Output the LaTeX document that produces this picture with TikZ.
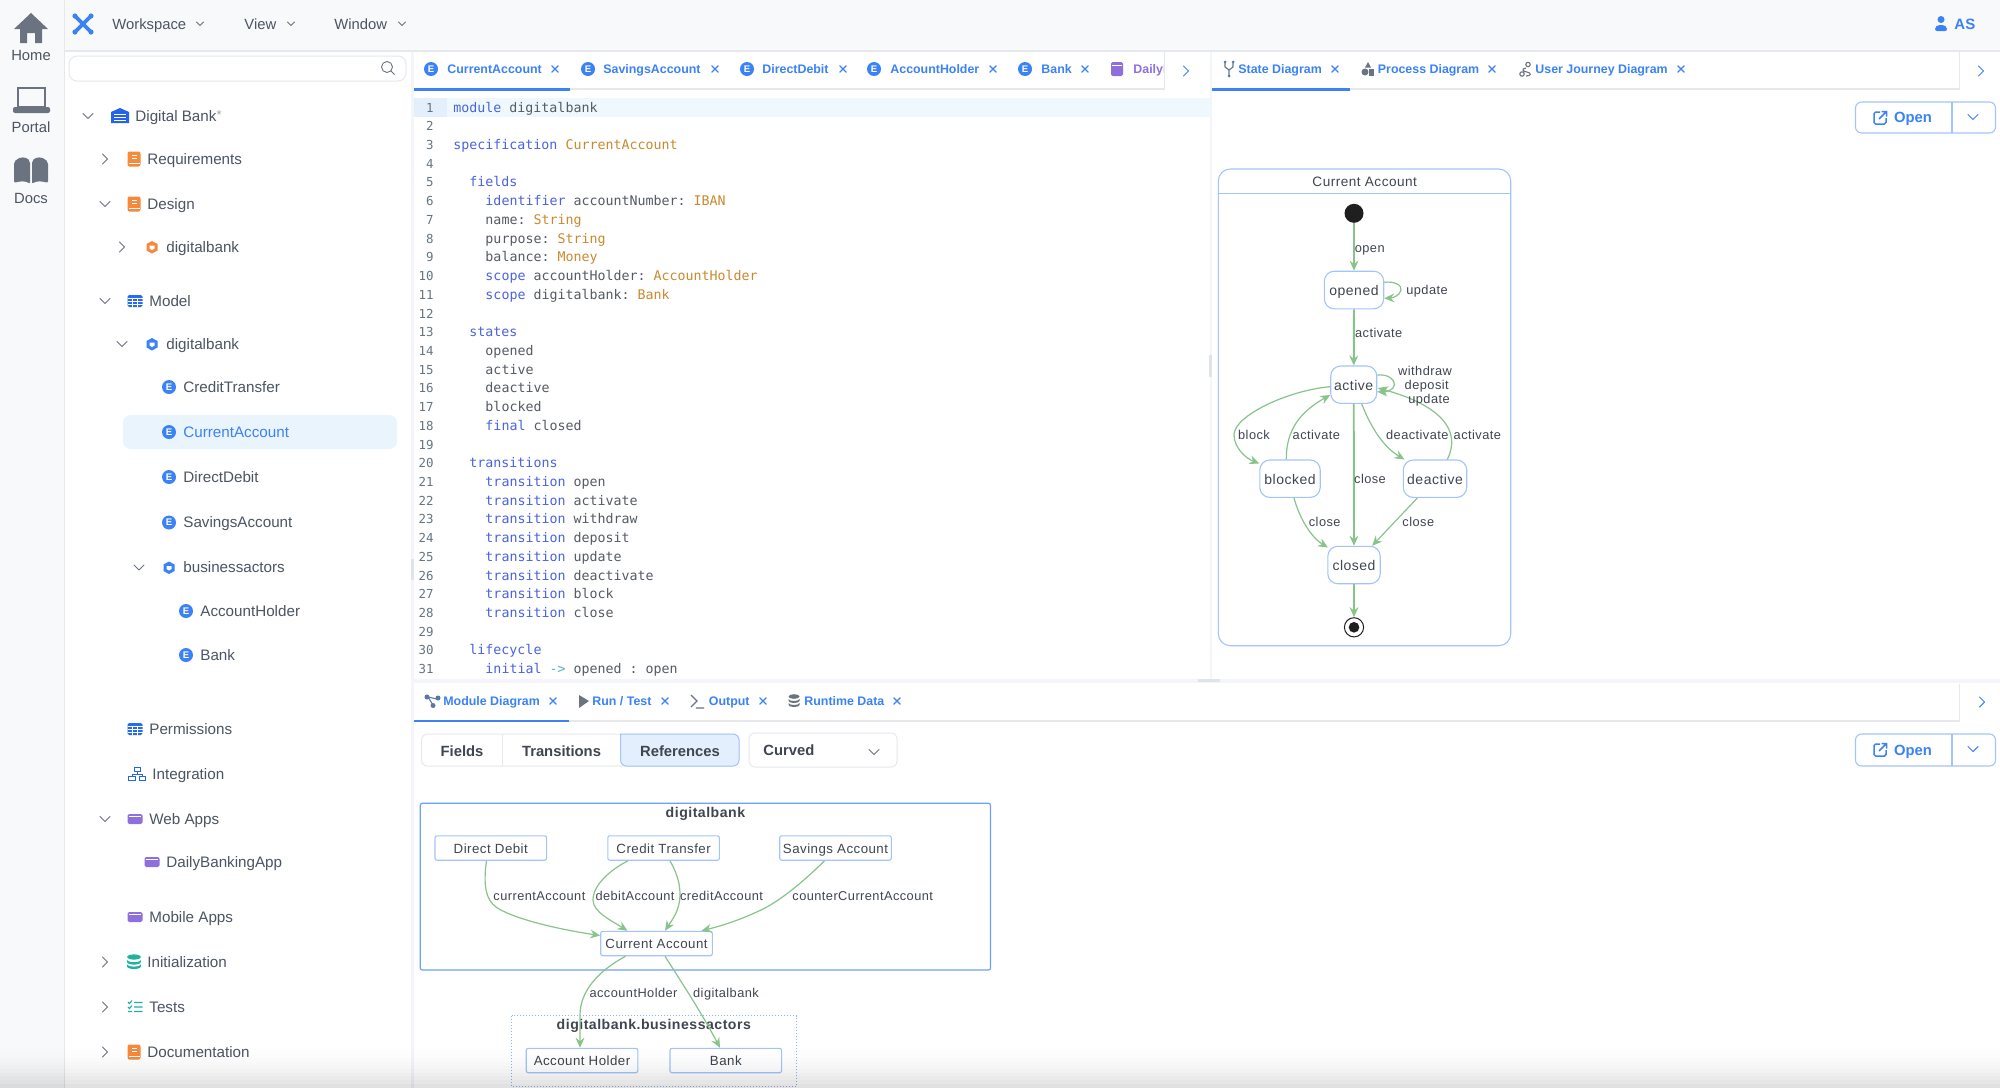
\documentclass[tikz,border=0pt]{standalone}
\usepackage{fontspec}
\setmainfont{Liberation Sans}
\newfontfamily\codefont{DejaVu Sans Mono}
\newfontfamily\spaced[LetterSpace=3.5]{Liberation Sans}
\usetikzlibrary{arrows.meta,calc}
\definecolor{railbg}{HTML}{F8F9FB}
\definecolor{edge}{HTML}{E6E8EC}
\definecolor{band}{HTML}{F3F5F9}
\definecolor{handle}{HTML}{DFE3EA}
\definecolor{txt}{HTML}{4B5563}
\definecolor{dark}{HTML}{3F4650}
\definecolor{railic}{HTML}{6B7280}
\definecolor{blue}{HTML}{3B82F6}
\definecolor{dblue}{HTML}{2563EB}
\definecolor{orange}{HTML}{F58A3C}
\definecolor{purple}{HTML}{8F6FDB}
\definecolor{teal}{HTML}{20B2A0}
\definecolor{hl}{HTML}{EAF4FD}
\definecolor{lineact}{HTML}{EFF8FC}
\definecolor{gutact}{HTML}{E3EFFA}
\definecolor{kwc}{HTML}{4A63E0}
\definecolor{tyc}{HTML}{C98A2E}
\definecolor{codec}{HTML}{555B63}
\definecolor{numc}{HTML}{66757F}
\definecolor{arrowc}{HTML}{4FB8B0}
\definecolor{green}{HTML}{88C48A}
\definecolor{sblue}{HTML}{A3C4FA}
\definecolor{refbg}{HTML}{E3EFFC}
\newcounter{ic}
\newcommand{\fsz}[1]{\fontsize{#1}{#1}\selectfont}
\newcommand{\kw}[1]{\textcolor{kwc}{#1}}
\newcommand{\ty}[1]{\textcolor{tyc}{#1}}
\tikzset{
 x=0.5pt,y=-0.5pt,
 tree/.style={inner sep=0pt,anchor=west,yshift=-0.6pt,text=txt,font=\fsz{7.6pt},text height=5.6pt,text depth=1.6pt},
 menu/.style={tree,font=\fsz{7.4pt}},
 rail/.style={inner sep=0pt,yshift=-0.6pt,text=txt,font=\fsz{7.4pt},text height=5.4pt,text depth=1.5pt},
 tabt/.style={inner sep=0pt,anchor=west,yshift=-0.6pt,text=blue,font=\bfseries\fsz{6.2pt},text height=4.6pt,text depth=1.3pt},
 code/.style={inner sep=0pt,anchor=west,yshift=-0.6pt,text=codec,font=\codefont\frenchspacing\fsz{6.65pt},text height=5pt,text depth=1.4pt},
 lnum/.style={inner sep=0pt,anchor=east,yshift=-0.6pt,text=numc,font=\codefont\fsz{6.2pt},text height=5pt,text depth=1.4pt},
 btnt/.style={inner sep=0pt,yshift=-0.6pt,text=dark,font=\bfseries\fsz{7.4pt},text height=5.4pt,text depth=1.5pt},
 opent/.style={inner sep=0pt,yshift=-0.6pt,text=blue,font=\bfseries\fsz{7.4pt},text height=5.4pt,text depth=1.5pt},
 state/.style={draw=sblue,fill=white,line width=0.55pt,rounded corners=5pt,inner sep=0pt,text=dark,font=\spaced\fsz{7pt},text height=6.4pt,text depth=1pt},
 mbox/.style={draw=sblue,fill=white,line width=0.55pt,rounded corners=1pt,inner sep=0pt,minimum width=55.8pt,minimum height=12.2pt,text=dark,font=\spaced\fsz{6.65pt},text height=6pt,text depth=1pt},
 elab/.style={inner sep=0pt,yshift=-0.6pt,text=dark,font=\spaced\fsz{6.4pt},text height=4.8pt,text depth=1.4pt},
 gtitle/.style={inner sep=0pt,yshift=-0.6pt,text=dark,font=\spaced\bfseries\fsz{7.05pt},text height=5.2pt,text depth=1.5pt},
 thin edge/.style={draw=green,line width=0.6pt,-{Stealth[length=5pt,width=4.4pt,inset=1.7pt]}},
 thick edge/.style={draw=green,line width=0.95pt,-{Stealth[length=5pt,width=4.4pt,inset=1.7pt]}},
 chev/.style={draw=railic,line width=0.5pt,line cap=round,line join=round},
 closex/.style={draw=blue,line width=0.6pt,line cap=round},
}
\newcommand{\icChevD}[3][railic]{\draw[chev,draw=#1,shift={(#2,#3)}] (-5,-2.5) -- (0,2.5) -- (5,-2.5);}
\newcommand{\icChevS}[3][railic]{\draw[chev,draw=#1,shift={(#2,#3)}] (-3.5,-2) -- (0,1.5) -- (3.5,-2);}
\newcommand{\icChevR}[3][railic]{\draw[chev,draw=#1,shift={(#2,#3)}] (-2.5,-5) -- (2.5,0) -- (-2.5,5);}
\newcommand{\icX}[2]{\draw[closex,shift={(#1,#2)}] (-3.2,-3.2) -- (3.2,3.2) (-3.2,3.2) -- (3.2,-3.2);}
\newcommand{\icE}[2]{\stepcounter{ic}\node[circle,fill=blue,inner sep=0pt,minimum size=7pt,text=white,font=\bfseries\fsz{4.8pt}] (ic\arabic{ic}) at (#1,#2) {E};}
\newcommand{\icBook}[2]{\begin{scope}[shift={(#1,#2)}]
 \fill[orange,rounded corners=1pt] (-6.5,-7.5) rectangle (6.5,7.5);
 \draw[white,line width=0.45pt] (-2,-3.5) -- (3,-3.5) (-2,-0.5) -- (3,-0.5) (-5,4) -- (6,4);\end{scope}}
\newcommand{\icCube}[3]{\begin{scope}[shift={(#2,#3)}]
 \fill[#1] (0,-6) -- (5.5,-3) -- (5.5,3.5) -- (0,6.5) -- (-5.5,3.5) -- (-5.5,-3) -- cycle;
 \fill[white] (-2.5,-1.5) -- (2.5,-1.5) -- (2.5,1.5) -- (0,3) -- (-2.5,1.5) -- cycle;\end{scope}}
\newcommand{\icGrid}[2]{\begin{scope}[shift={(#1,#2)}]
 \fill[dblue!80!blue,rounded corners=0.8pt] (-7.5,-6) rectangle (7.5,6);
 \draw[white,line width=0.4pt] (-7.5,-2.5) -- (7.5,-2.5) (-7.5,0.8) -- (7.5,0.8) (-7.5,3.6) -- (7.5,3.6) (-2.5,-2.5) -- (-2.5,6) (2.5,-2.5) -- (2.5,6);\end{scope}}
\newcommand{\icWin}[2]{\begin{scope}[shift={(#1,#2)}]
 \fill[purple,rounded corners=0.8pt] (-7.5,-5) rectangle (7.5,5);
 \draw[white,line width=0.4pt] (-6,-2.8) -- (6,-2.8);\end{scope}}
\newcommand{\icNet}[2]{\begin{scope}[shift={(#1,#2)}]
 \draw[dblue,line width=0.5pt] (-3,-7) rectangle (3,-3) (-8.5,2.5) rectangle (-2,6.5) (2,2.5) rectangle (8.5,6.5)
 (0,-3) -- (0,0) (-5,2.5) -- (-5,0) -- (5,0) -- (5,2.5);\end{scope}}
\newcommand{\icDb}[3]{\begin{scope}[shift={(#2,#3)}]
 \fill[#1] (0,-5) ellipse (6.8 and 2.6);
 \fill[#1] (-6.8,-2.2) arc (180:0:6.8 and 2.4) -- (6.8,0.2) arc (0:180:6.8 and 2.4) -- cycle;
 \fill[#1] (-6.8,2.2) arc (180:0:6.8 and 2.4) -- (6.8,4.6) arc (0:180:6.8 and 2.4) -- cycle;\end{scope}}
\newcommand{\icList}[2]{\begin{scope}[shift={(#1,#2)}]
 \draw[teal,line width=0.55pt] (-1,-4.5) -- (7.5,-4.5) (-1,0) -- (7.5,0) (-1,4.5) -- (7.5,4.5)
 (-7,-5) -- (-5.5,-3.5) -- (-3,-6.5) (-7,0) -- (-5.5,1.5) -- (-3,-1.5) (-7,4.5) -- (-3,4.5);\end{scope}}
\newcommand{\icOpen}[2]{\begin{scope}[shift={(#1,#2)}]
 \draw[blue,line width=0.75pt,rounded corners=0.8pt] (0,-6) -- (-6,-6) -- (-6,6) -- (6,6) -- (6,0);
 \draw[blue,line width=0.75pt] (-1,1) -- (6.5,-6.5) (1.5,-6.5) -- (6.5,-6.5) -- (6.5,-1.5);\end{scope}}
\newcommand{\cl}[3]{\node[lnum] (n#1) at (434,{107.3+18.72*(#1-1)}) {#1};
 \ifx\relax#3\relax\else\node[code] (c#1) at ({453+#2*8.02},{107.3+18.72*(#1-1)}) {#3};\fi}
\newcommand{\tabitem}[6]{\node[tabt,#6] (#1) at (#2,#3) {#4}; \icX{#5}{#3}}
\begin{document}
\begin{tikzpicture}
\useasboundingbox (0,0) rectangle (2000,1088);
\fill[white] (0,0) rectangle (2000,1088);
% rails and bars
\fill[railbg] (0,0) rectangle (64,1088);
\fill[railbg] (64,0) rectangle (2000,50);
\fill[edge] (64,0) rectangle (65,1088);
\fill[edge] (64,50) rectangle (2000,52);
\fill[band] (411,52) rectangle (414,1088);
\fill[handle] (411,559) rectangle (414,580);
\fill[band] (1210,52) rectangle (1212,679);
\fill[handle] (1209,355) rectangle (1212,377);
\fill[band] (414,679) rectangle (2000,683);
\fill[handle] (1198,679) rectangle (1220,682);
% left rail
\fill[railic] (31,13) -- (48,29) -- (42,29) -- (42,43) -- (35,43) -- (35,33) -- (27,33) -- (27,43) -- (20,43) -- (20,29) -- (14,29) -- cycle;
\node[rail] (home) at (31,55) {Home};
\draw[railic,line width=1.1pt] (18,88) rectangle (45,107);
\fill[railic,rounded corners=1pt] (13,107) rectangle (50,113);
\node[rail] (portal) at (31,127) {Portal};
\fill[railic,rounded corners=1pt] (14,162) .. controls (20,156) and (26,157) .. (30,161) -- (30,184) .. controls (26,181) and (20,181) .. (14,183) -- cycle;
\fill[railic,rounded corners=1pt] (48,162) .. controls (42,156) and (36,157) .. (32,161) -- (32,184) .. controls (36,181) and (42,181) .. (48,183) -- cycle;
\node[rail] (docs) at (31,198) {Docs};
% logo and menu
\draw[blue,line width=1.9pt] (76,17) -- (90,31) (90,17) -- (76,31);
\foreach \px/\py in {75/16,91/16,75/32,91/32} \fill[blue] (\px,\py) circle (2.6);
\node[menu] (mw) at (112,24) {Workspace}; \icChevS{200}{24}
\node[menu] (mv) at (244,24) {View}; \icChevS{291}{24}
\node[menu] (mwin) at (334,24) {Window}; \icChevS{402}{24}
\fill[blue] (1941,19.5) circle (3.5);
\fill[blue,rounded corners=1pt] (1935,31) -- (1935,27) -- (1938,25) -- (1944,25) -- (1947,27) -- (1947,31) -- cycle;
\node[menu,text=blue,font=\bfseries\fsz{7.5pt}] (as) at (1954,24) {AS};
% search
\draw[edge,fill=white,rounded corners=4pt,line width=0.5pt] (69,56) rectangle (406,81);
\draw[railic,line width=0.45pt] (387,67) circle (5.5) (391,71) -- (394.5,74.5);
% tree
\fill[hl,rounded corners=4pt] (123,415) rectangle (397,449);
\icChevD{88}{116}
\fill[dblue] (111,112) -- (120,108) -- (129,112) -- (129,123) -- (111,123) -- cycle;
\draw[white,line width=0.4pt] (114,114.5) -- (126,114.5) (114,117.5) -- (126,117.5) (114,120.5) -- (126,120.5);
\node[tree] (t1) at (135,116) {Digital Bank\textcolor{gray!70}{\raisebox{0.8pt}{\fsz{6.5pt}*}}};
\icChevR{105}{159}\icBook{134}{159}\node[tree] (t2) at (147,159) {Requirements};
\icChevD{105}{204}\icBook{134}{204}\node[tree] (t3) at (147,204) {Design};
\icChevR{122}{247}\icCube{orange}{152}{247}\node[tree] (t4) at (166,247) {digitalbank};
\icChevD{105}{301}\icGrid{135}{301}\node[tree] (t5) at (149,301) {Model};
\icChevD{122}{344}\icCube{blue}{152}{344}\node[tree] (t6) at (166,344) {digitalbank};
\icE{169}{387}\node[tree] (t7) at (183,387) {CreditTransfer};
\icE{169}{432}\node[tree,text=blue] (t8) at (183,432) {CurrentAccount};
\icE{169}{477}\node[tree] (t9) at (183,477) {DirectDebit};
\icE{169}{522.5}\node[tree] (t10) at (183,522.5) {SavingsAccount};
\icChevD{139}{567.5}\icCube{blue}{169}{567.5}\node[tree] (t11) at (183,567.5) {businessactors};
\icE{186}{611}\node[tree] (t12) at (200,611) {AccountHolder};
\icE{186}{655}\node[tree] (t13) at (200,655) {Bank};
\icGrid{135}{729}\node[tree] (t14) at (149,729) {Permissions};
\icNet{137}{774}\node[tree] (t15) at (152,774) {Integration};
\icChevD{105}{819}\icWin{135}{819}\node[tree] (t16) at (149,819) {Web Apps};
\icWin{152}{862}\node[tree] (t17) at (166,862) {DailyBankingApp};
\icWin{135}{917}\node[tree] (t18) at (149,917) {Mobile Apps};
\icChevR{105}{962}\icDb{teal}{134}{962}\node[tree] (t19) at (147,962) {Initialization};
\icChevR{105}{1007}\icList{135}{1007}\node[tree] (t20) at (149,1007) {Tests};
\icChevR{105}{1052}\icBook{134}{1052}\node[tree] (t21) at (147,1052) {Documentation};
% editor tabs
\fill[edge] (414,88) rectangle (1164,90);
\fill[blue] (414,88) rectangle (570,90.5);
\icE{431}{69}\tabitem{a1}{447}{69}{CurrentAccount}{555}{}
\icE{588}{69}\tabitem{a2}{603}{69}{SavingsAccount}{715}{}
\icE{747}{69}\tabitem{a3}{762}{69}{DirectDebit}{843}{}
\icE{874}{69}\tabitem{a4}{890}{69}{AccountHolder}{993}{}
\icE{1025}{69}\tabitem{a5}{1041}{69}{Bank}{1085}{}
\fill[purple,rounded corners=0.8pt] (1111,62) rectangle (1123,76);
\draw[white,line width=0.4pt] (1112,65) -- (1122,65);
\begin{scope}
\clip (1100,52) rectangle (1164,87);
\node[tabt,text=purple] (a6) at (1133,69) {DailyBankingApp};
\end{scope}
\fill[edge] (1164,52) rectangle (1165,90);
\icChevR[blue]{1186}{71}
% code
\fill[lineact] (447,98) rectangle (1210,117);
\fill[gutact] (414,98) rectangle (447,117);
\cl{1}{0}{\kw{module} digitalbank}
\cl{2}{0}{}
\cl{3}{0}{\kw{specification} \ty{CurrentAccount}}
\cl{4}{0}{}
\cl{5}{2}{\kw{fields}}
\cl{6}{4}{\kw{identifier} accountNumber: \ty{IBAN}}
\cl{7}{4}{name: \ty{String}}
\cl{8}{4}{purpose: \ty{String}}
\cl{9}{4}{balance: \ty{Money}}
\cl{10}{4}{\kw{scope} accountHolder: \ty{AccountHolder}}
\cl{11}{4}{\kw{scope} digitalbank: \ty{Bank}}
\cl{12}{0}{}
\cl{13}{2}{\kw{states}}
\cl{14}{4}{opened}
\cl{15}{4}{active}
\cl{16}{4}{deactive}
\cl{17}{4}{blocked}
\cl{18}{4}{\kw{final} closed}
\cl{19}{0}{}
\cl{20}{2}{\kw{transitions}}
\cl{21}{4}{\kw{transition} open}
\cl{22}{4}{\kw{transition} activate}
\cl{23}{4}{\kw{transition} withdraw}
\cl{24}{4}{\kw{transition} deposit}
\cl{25}{4}{\kw{transition} update}
\cl{26}{4}{\kw{transition} deactivate}
\cl{27}{4}{\kw{transition} block}
\cl{28}{4}{\kw{transition} close}
\cl{29}{0}{}
\cl{30}{2}{\kw{lifecycle}}
\cl{31}{4}{\kw{initial} \textcolor{arrowc}{->} opened : open}
% right tabs
\fill[edge] (1212,88) rectangle (1959,90);
\fill[blue] (1212,88) rectangle (1350,90.5);
\draw[railic!80!blue,line width=0.55pt] (1225,63) -- (1225,67) -- (1229,70) -- (1233,67) -- (1233,63) (1229,70) -- (1229,75);
\foreach \px/\py in {1225/62,1233/62,1229/76} \fill[railic!70!blue] (\px,\py) circle (1.5);
\tabitem{b1}{1238}{69}{State Diagram}{1335}{}
\fill[railic] (1368,62) -- (1371,67.5) -- (1365,67.5) -- cycle (1365,72) circle (3.5);
\fill[railic] (1368.5,69) rectangle (1374,75.5);
\tabitem{b2}{1377.5}{69}{Process Diagram}{1492}{}
\draw[railic,line width=0.55pt] (1522,74) circle (2.2) (1528,64.5) circle (2.2) (1526,68) .. controls (1520,69) and (1524,72) .. (1527,72) .. controls (1532,73) and (1531,76) .. (1526,76);
\tabitem{b3}{1535}{69}{User Journey Diagram}{1681}{}
\fill[edge] (1959,52) rectangle (1960,90);
\icChevR[blue]{1981}{71}
% open buttons
\draw[sblue,fill=white,rounded corners=3pt,line width=0.55pt] (1855.5,102) rectangle (1995.5,133);
\draw[sblue,line width=0.55pt] (1952,102) -- (1952,133);
\icOpen{1880}{118}\node[opent] (o1) at (1913,117.5) {Open};
\icChevD[blue]{1973}{117}
\draw[sblue,fill=white,rounded corners=3pt,line width=0.55pt] (1855.5,734) rectangle (1995.5,766);
\draw[sblue,line width=0.55pt] (1952,734) -- (1952,766);
\icOpen{1880}{750}\node[opent] (o2) at (1913,750.5) {Open};
\icChevD[blue]{1973}{749}
% bottom tabs
\fill[edge] (414,720) rectangle (1959,721.5);
\fill[blue] (414,719.5) rectangle (569,721.5);
\draw[railic!70!blue,line width=0.55pt] (428,697) -- (437,699) (428,697) -- (433,705);
\foreach \px/\py/\pr in {427/697/2.5,438/698/2.5,433/705.5/2.5} \fill[railic!70!blue] (\px,\py) circle (\pr);
\tabitem{c1}{443}{701}{Module Diagram}{553}{}
\fill[railic] (579,695) -- (589,701) -- (579,708) -- cycle;
\tabitem{c2}{592}{701}{Run / Test}{665}{}
\draw[railic,line width=0.55pt] (691,695) -- (697,701) -- (691,707) (696,708) -- (704,708);
\tabitem{c3}{708.5}{701}{Output}{763}{}
\begin{scope}[shift={(794,701)}]\fill[railic] (0,-4.5) ellipse (5.5 and 2.3);
\fill[railic] (-5.5,-2) arc (180:0:5.5 and 2) -- (5.5,0) arc (0:180:5.5 and 2) -- cycle;
\fill[railic] (-5.5,2) arc (180:0:5.5 and 2) -- (5.5,4) arc (0:180:5.5 and 2) -- cycle;\end{scope}
\tabitem{c4}{804}{701}{Runtime Data}{897}{}
\fill[edge] (1959,684) rectangle (1960,721.5);
\icChevR[blue]{1982}{702}
% segmented control
\draw[edge,fill=white,rounded corners=3pt,line width=0.5pt] (421.5,734) rectangle (739,766);
\draw[edge,line width=0.5pt] (502,734) -- (502,766);
\draw[sblue,fill=refbg,line width=0.5pt,rounded corners=3pt] (620.5,734) -- (739,734) -- (739,766) -- (620.5,766) [sharp corners] -- cycle;
\node[btnt] (f1) at (462,751) {Fields};
\node[btnt] (f2) at (561.5,751) {Transitions};
\node[btnt] (f3) at (680,751) {References};
\draw[edge,fill=white,rounded corners=3pt,line width=0.5pt] (749,733) rectangle (897,767);
\node[btnt,anchor=west] (f4) at (763,750) {Curved};
\icChevD{874}{752}
% state diagram
\draw[sblue,rounded corners=6pt,line width=0.55pt] (1218.3,169) rectangle (1510.7,645.7);
\draw[sblue,line width=0.55pt] (1218.3,193.7) -- (1510.7,193.7);
\node[elab,font=\spaced\fsz{6.8pt}] (st) at (1364.7,181.7) {Current Account};
\node[circle,fill=black!88,minimum size=9.5pt,inner sep=0pt] (s0) at (1354,213.3) {};
\node[state,minimum width=29.7pt,minimum height=18.8pt] (opened) at (1354,290) {opened};
\node[state,minimum width=23pt,minimum height=18.7pt] (active) at (1353.7,384.7) {active};
\node[state,minimum width=30.2pt,minimum height=18.7pt] (blocked) at (1290,478.7) {blocked};
\node[state,minimum width=31.7pt,minimum height=18.7pt] (deactive) at (1435,478.7) {deactive};
\node[state,minimum width=26.2pt,minimum height=18.7pt] (closed) at (1354,565) {closed};
\node[circle,draw=black!88,fill=white,line width=0.5pt,minimum size=9.6pt,inner sep=0pt] (s1) at (1354,627.3) {};
\fill[black!88] (s1) circle (5.3);
\draw[thick edge] (s0) -- (opened);
\draw[thick edge] (opened) -- (active);
\draw[thick edge] (active) -- (closed);
\draw[thick edge] (closed) -- (s1);
\draw[thin edge] ($(opened.east)+(0,-7.7)$) .. controls (1394,281) and (1402,285) .. (1401,290) .. controls (1400,296) and (1392,298) .. ($(opened.east)+(0,8.3)$);
\draw[thin edge] ($(active.east)+(0,-9.7)$) .. controls (1386,374) and (1394.5,378) .. (1394.3,385) .. controls (1394,390) and (1386,392) .. ($(active.east)+(0,7)$);
\draw[thin edge] ($(active.west)+(0,2)$) .. controls (1290,390) and (1234,415) .. (1234,435) .. controls (1234,447) and (1245,458) .. ($(blocked.north west)+(0,4)$);
\draw[thin edge] ($(blocked.north)+(-3.7,0)$) .. controls (1286,430) and (1300,412) .. ($(active.west)+(0,10.3)$);
\draw[thin edge] ($(active.south)+(8,0)$) .. controls (1368,420) and (1380,445) .. ($(deactive.north west)+(1.7,0)$);
\draw[thin edge] ($(deactive.north)+(12.3,0)$) .. controls (1462,430) and (1440,405) .. ($(active.east)+(0.6,3.3)$);
\draw[thin edge] ($(blocked.south)+(4,0)$) .. controls (1300,520) and (1312,538) .. ($(closed.north west)+(0.7,1.7)$);
\draw[thin edge] ($(deactive.south)+(-17.7,0)$) -- ($(closed.north east)+(-8.6,0)$);
\foreach \n/\px/\py/\t in {l1/1369.7/247.7/open,l2/1427/290.3/update,l3/1378.7/333.3/activate,l4/1425/370.7/withdraw,l5/1426.7/384.7/deposit,l6/1429/399/update,l7/1254/435.3/block,l8/1316.3/435.3/activate,l9/1417.3/435.3/deactivate,l10/1477.3/435.3/activate,l11/1370/479.3/close,l12/1324.7/522/close,l13/1418.3/522/close}
 \node[elab] (\n) at (\px,\py) {\t};
% module diagram
\draw[blue!75!white,line width=0.6pt,rounded corners=1pt] (420.3,803.3) rectangle (990.5,970);
\node[gtitle] (g1) at (705.4,812.7) {digitalbank};
\draw[blue!60!white,line width=0.5pt,densely dotted] (511.8,1015.7) rectangle (796.5,1086.7);
\node[gtitle] (g2) at (653.8,1025) {digitalbank.businessactors};
\node[mbox] (dd) at (490.8,848) {Direct Debit};
\node[mbox] (ct) at (663.6,848) {Credit Transfer};
\node[mbox] (sa) at (835.5,848) {Savings Account};
\node[mbox] (ca) at (656.5,943.5) {Current Account};
\node[mbox] (ah) at (582,1060.5) {Account Holder};
\node[mbox] (bk) at (725.8,1060.5) {Bank};
\draw[thin edge] ($(dd.south)+(-4.3,0)$) .. controls (483,885) and (486,900) .. (496,907) .. controls (510,917) and (550,928) .. ($(ca.west)+(0,-8)$);
\draw[thin edge] ($(ct.south)+(-35.6,0)$) .. controls (610,870) and (593,885) .. (593,900) .. controls (593,912) and (612,921) .. ($(ca.north)+(-29,0)$);
\draw[thin edge] ($(ct.south)+(6.4,0)$) .. controls (678,875) and (680,885) .. (680,895) .. controls (680,910) and (672,920) .. ($(ca.north)+(8.5,0)$);
\draw[thin edge] ($(sa.south)+(-11,0)$) .. controls (800,885) and (780,900) .. (765,908) .. controls (745,918) and (725,925) .. ($(ca.north)+(45,0)$);
\draw[thin edge] ($(ca.south)+(-31,0)$) .. controls (600,970) and (580,990) .. (580,1015) -- ($(ah.north)+(-2,0)$);
\draw[thin edge] ($(ca.south)+(8.5,0)$) .. controls (680,980) and (700,1010) .. ($(bk.north)+(-5.8,0)$);
\foreach \n/\px/\py/\t in {m1/539.4/896/currentAccount,m2/635/896/debitAccount,m3/721.5/896/creditAccount,m4/862.7/896/counterCurrentAccount,m5/633.5/993/accountHolder,m6/726/993/digitalbank}
 \node[elab] (\n) at (\px,\py) {\t};
% bottom fade
\foreach \i in {0,...,11} \fill[black,opacity={0.001+0.0016*\i}] (0,{1044+\i*3.6}) rectangle (2000,1088);
\end{tikzpicture}
\end{document}
